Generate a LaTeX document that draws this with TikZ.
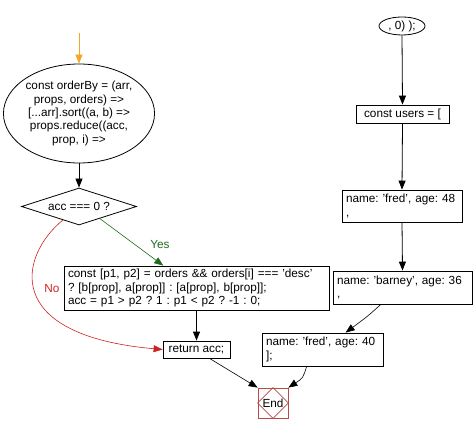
\documentclass[tikz,border=0pt]{standalone}
\usepackage{fontspec}
\setmainfont{Liberation Sans}
\usetikzlibrary{shapes.geometric,arrows.meta,calc}
\definecolor{endred}{HTML}{B84A4A}
\definecolor{noline}{HTML}{CC2222}
\definecolor{yesline}{HTML}{1E6B1E}
\definecolor{startor}{HTML}{F5A623}
\tikzset{
  every node/.style={font=\fontsize{11.8}{13.4}\selectfont\frenchspacing, inner sep=0pt},
  box/.style={draw, rectangle, line width=0.8bp, align=left, inner xsep=4bp},
  ell/.style={draw, ellipse, line width=0.8bp, align=center},
  dec/.style={draw, diamond, aspect=3.1, line width=0.8bp},
  arr/.style={line width=0.8bp, -{Triangle[length=9bp,width=7bp]}},
  thinarr/.style={line width=0.6bp, -{Triangle[length=9bp,width=7bp]}}
}
\begin{document}
\begin{tikzpicture}[x=1bp,y=-1bp]
\useasboundingbox (0,0) rectangle (474,433);
% left column
\coordinate (st) at (79,33);
\node[ell, minimum width=150bp, minimum height=99bp] (ob) at (79,113.5)
  {const orderBy = (arr,\\props, orders) =>\\{[}...arr].sort((a, b) =>\\props.reduce((acc,\\prop, i) =>};
\node[dec, minimum width=115bp, minimum height=37bp] (acc) at (79,206.5) {acc === 0 ?};
\node[box, minimum width=265bp, minimum height=44bp, text width=257bp] (cmp) at (196.5,288)
  {const [p1, p2] = orders \&\& orders[i] === 'desc'\\? [b[prop], a[prop]] : [a[prop], b[prop]];\\acc = p1 > p2 ? 1 : p1 < p2 ? -1 : 0;};
\node[box, minimum width=67bp, minimum height=17bp, align=center] (ret) at (196.5,349.5) {return acc;};
\node[draw=endred, rectangle, line width=0.8bp, minimum width=30bp, minimum height=30bp] (end) at (273,403) {};
\draw[endred, line width=0.6bp] (end.north) -- (end.east) -- (end.south) -- (end.west) -- cycle;
\node at (end) {End};
% right column
\node[ell, minimum width=46bp, minimum height=18bp] (cl) at (402,26) {, 0) );};
\node[box, minimum width=93bp, minimum height=18bp, align=center] (usr) at (402.5,114) {const users = [};
\node[box, minimum width=120bp, minimum height=32bp, text width=112bp] (f48) at (402,206) {name: 'fred', age: 48\\,};
\node[box, minimum width=139bp, minimum height=33bp, text width=131bp] (bar) at (402.5,287.5) {name: 'barney', age: 36\\,};
\node[box, minimum width=121bp, minimum height=33bp, text width=113bp] (f40) at (322.5,349.5) {name: 'fred', age: 40\\{]};};
% connectors
\draw[arr, startor] (st) -- (ob.north);
\draw[arr] (ob.south) -- (acc.north);
\draw[thinarr, yesline] ($(acc.south)!0.36!(acc.east)$) -- ($(cmp.north west)!0.375!(cmp.north east)$);
\node[text=yesline] (yesl) at (160,245) {Yes};
\draw[thinarr, noline] ($(acc.south)!0.28!(acc.west)$) .. controls (20,255) and (0,335) .. (ret.west);
\node[text=noline] (nol) at (52,289) {No};
\draw[arr] (cmp.south) -- (ret.north);
\draw[thinarr] ($(ret.south)+(13,0)$) -- (end.north west);
\draw[arr] (cl.south) -- (usr.north);
\draw[arr] (usr.south) -- (f48.north);
\draw[arr] (f48.south) -- (bar.north);
\draw[thinarr] ($(bar.south west)!0.345!(bar.south east)$) .. controls (368,316) .. ($(f40.north west)!0.69!(f40.north east)$);
\draw[thinarr] ($(f40.south west)!0.37!(f40.south east)$) .. controls (303,378) .. (end.north east);
\end{tikzpicture}
\end{document}
